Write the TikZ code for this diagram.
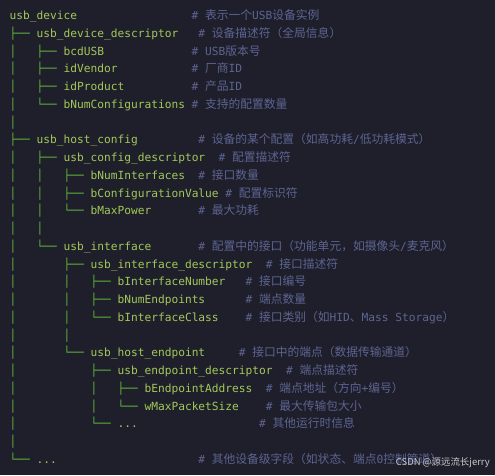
\documentclass[tikz,border=0pt]{standalone}
\usepackage{fontspec}
\setmonofont{DejaVu Sans Mono}
\newfontfamily\zhfont[Scale=1.05]{Noto Sans CJK SC}
\usepackage{tikz}

\definecolor{codebg}{HTML}{1E1F2B}
\definecolor{treegreen}{HTML}{62B83C}
\definecolor{fieldgreen}{HTML}{A3C85A}
\definecolor{notegray}{HTML}{5E6491}
\definecolor{markgray}{HTML}{C8C8CC}

\newcommand\zh[1]{{\zhfont #1}}
\newcommand\tr[1]{\textcolor{treegreen}{#1}}

\begin{document}
\begin{tikzpicture}[x=6.74pt,y=-17.75pt,
    code/.style={anchor=base west,inner sep=0pt,text=fieldgreen,
      font=\ttfamily\fontsize{11.2pt}{13pt}\selectfont},
    note/.style={code,text=notegray}]
  \useasboundingbox (-9.5pt,19.5pt) rectangle (485.5pt,-455.5pt);
  \fill[codebg] (-9.5pt,19.5pt) rectangle (485.5pt,-455.5pt);
  % device level
  \node[code] (dev)     at (0,0) {usb\_device};
  \node[code] (devdesc) at (0,1) {\tr{├──~}usb\_device\_descriptor};
  \node[code] (bcd)     at (0,2) {\tr{│~~~├──~}bcdUSB};
  \node[code] (vid)     at (0,3) {\tr{│~~~├──~}idVendor};
  \node[code] (pid)     at (0,4) {\tr{│~~~├──~}idProduct};
  \node[code] (nconf)   at (0,5) {\tr{│~~~└──~}bNumConfigurations};
  \node[code] (gap1)    at (0,6) {\tr{│}};
  % configuration
  \node[code] (hostcfg) at (0,7) {\tr{├──~}usb\_host\_config};
  \node[code] (cfgdesc) at (0,8) {\tr{│~~~├──~}usb\_config\_descriptor};
  \node[code] (nintf)   at (0,9) {\tr{│~~~│~~~├──~}bNumInterfaces};
  \node[code] (cfgval)  at (0,10) {\tr{│~~~│~~~├──~}bConfigurationValue};
  \node[code] (maxpwr)  at (0,11) {\tr{│~~~│~~~└──~}bMaxPower};
  \node[code] (gap2)    at (0,12) {\tr{│~~~│}};
  % interface
  \node[code] (intf)    at (0,13) {\tr{│~~~└──~}usb\_interface};
  \node[code] (intfdesc) at (0,14) {\tr{│~~~~~~~├──~}usb\_interface\_descriptor};
  \node[code] (intfnum) at (0,15) {\tr{│~~~~~~~│~~~├──~}bInterfaceNumber};
  \node[code] (neps)    at (0,16) {\tr{│~~~~~~~│~~~├──~}bNumEndpoints};
  \node[code] (intfcls) at (0,17) {\tr{│~~~~~~~│~~~└──~}bInterfaceClass};
  \node[code] (gap3)    at (0,18) {\tr{│~~~~~~~│}};
  % endpoint
  \node[code] (ep)      at (0,19) {\tr{│~~~~~~~└──~}usb\_host\_endpoint};
  \node[code] (epdesc)  at (0,20) {\tr{│~~~~~~~~~~~├──~}usb\_endpoint\_descriptor};
  \node[code] (epaddr)  at (0,21) {\tr{│~~~~~~~~~~~│~~~├──~}bEndpointAddress};
  \node[code] (maxpkt)  at (0,22) {\tr{│~~~~~~~~~~~│~~~└──~}wMaxPacketSize};
  \node[code] (eprest)  at (0,23) {\tr{│~~~~~~~~~~~└──~}...};
  \node[code] (gap4)    at (0,24) {\tr{│}};
  \node[code] (rest)    at (0,25) {\tr{└──~}...};
  % comments
  \node[note] at (27,0) {\#~\zh{表示一个}USB\zh{设备实例}};
  \node[note] at (28,1) {\#~\zh{设备描述符（全局信息）}};
  \node[note] at (27,2) {\#~USB\zh{版本号}};
  \node[note] at (27,3) {\#~\zh{厂商}ID};
  \node[note] at (27,4) {\#~\zh{产品}ID};
  \node[note] at (27,5) {\#~\zh{支持的配置数量}};
  \node[note] at (28,7) {\#~\zh{设备的某个配置（如高功耗}/\zh{低功耗模式）}};
  \node[note] at (31,8) {\#~\zh{配置描述符}};
  \node[note] at (28,9) {\#~\zh{接口数量}};
  \node[note] at (32,10) {\#~\zh{配置标识符}};
  \node[note] at (28,11) {\#~\zh{最大功耗}};
  \node[note] at (28,13) {\#~\zh{配置中的接口（功能单元，如摄像头}/\zh{麦克风）}};
  \node[note] at (38,14) {\#~\zh{接口描述符}};
  \node[note] at (35,15) {\#~\zh{接口编号}};
  \node[note] at (35,16) {\#~\zh{端点数量}};
  \node[note] at (35,17) {\#~\zh{接口类别（如}HID\zh{、}Mass~Storage\zh{）}};
  \node[note] at (34,19) {\#~\zh{接口中的端点（数据传输通道）}};
  \node[note] at (41,20) {\#~\zh{端点描述符}};
  \node[note] at (38,21) {\#~\zh{端点地址（方向}+\zh{编号）}};
  \node[note] at (38,22) {\#~\zh{最大传输包大小}};
  \node[note] at (37,23) {\#~\zh{其他运行时信息}};
  \node[note] at (28,25) {\#~\zh{其他设备级字段（如状态、端点}0\zh{控制管道）}};
  % watermark
  \node[anchor=base east,inner sep=0pt,text=markgray,
    font=\zhfont\fontsize{9pt}{10pt}\selectfont] (mark) at (480.5pt,-445.5pt) {CSDN @源远流长jerry};
\end{tikzpicture}
\end{document}
